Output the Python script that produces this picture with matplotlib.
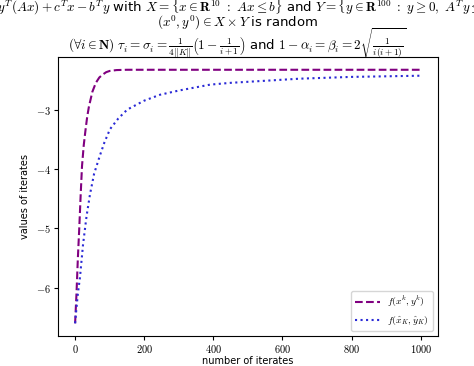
import numpy as np
import matplotlib
matplotlib.use("Agg")
import matplotlib.pyplot as plt

# values
iters_xk = [0, 4, 8, 12, 16, 20, 25, 30, 35, 40, 50, 60, 70, 80, 90, 100, 120, 150, 300, 600, 1000]
vals_xk = [-6.6, -6.1, -5.5, -5.0, -4.45, -3.95, -3.6, -3.35, -3.12, -2.95, -2.7, -2.55, -2.46, -2.41, -2.37, -2.35, -2.335, -2.33, -2.33, -2.33, -2.33]

iters_avg = [0, 3, 8, 14, 23, 33, 43, 55, 72, 85, 101, 125, 151, 200, 246, 300, 391, 450, 536, 650, 800, 1000]
vals_avg = [-6.6, -6.4, -6.1, -5.83, -5.27, -4.8, -4.43, -4.08, -3.77, -3.55, -3.33, -3.15, -3.0, -2.85, -2.75, -2.68, -2.58, -2.55, -2.52, -2.48, -2.45, -2.43]

xticks = [0, 200, 400, 600, 800, 1000]
yticks = [-6, -5, -4, -3]

plt.rcParams['mathtext.fontset'] = 'cm'
plt.rcParams['font.family'] = ['DejaVu Sans']

fig = plt.figure(figsize=(4.74, 3.66), dpi=100)
ax = fig.add_axes([0.122, 0.082, 0.802, 0.762])

ax.plot(iters_xk, vals_xk, linestyle='--', color='purple', linewidth=1.5,
        label=r'$f(x^k, y^k)$')
ax.plot(iters_avg, vals_avg, linestyle=':', color='#2a2ad6', linewidth=1.5,
        label=r'$f(\hat{x}_K, \hat{y}_K)$')

ax.set_xticks(xticks)
ax.set_xticklabels([f'${t}$' for t in xticks], fontsize=7.5)
ax.set_yticks(yticks)
ax.set_yticklabels([f'${t}$' for t in yticks], fontsize=7.5)
ax.tick_params(axis='both', length=3, pad=2)
ax.set_xlabel('number of iterates', fontsize=7, labelpad=1)
ax.set_ylabel('values of iterates', fontsize=7, labelpad=4)
ax.legend(loc='lower right', fontsize=7, handlelength=2.5)

# title lines, the first one is wider than the figure (cut at both sides like the original)
line1 = (r"$\mathcal{L}(x,y) = -y^T(Ax) + c^Tx - b^Ty$ with $X = \{x \in \mathbf{R}^{10}\ :\ Ax \leq b\}$"
         r" and $Y = \{y \in \mathbf{R}^{100}\ :\ y \geq 0,\ A^Ty \leq c\}$")
line2 = r"$(x^0, y^0) \in X \times Y$ is random"
line3 = (r"$(\forall i \in \mathbf{N})\ \tau_i = \sigma_i = \frac{1}{4\|K\|}\left(1 - \frac{1}{i+1}\right)$"
         r" and $1 - \alpha_i = \beta_i = 2\sqrt{\frac{1}{i(i+1)}}$")
fig.text(0.455, 0.98, line1, ha='center', va='center', fontsize=9.5)
fig.text(0.5, 0.936, line2, ha='center', va='center', fontsize=9.5)
fig.text(0.5, 0.882, line3, ha='center', va='center', fontsize=9.5)

fig.savefig('out.png', dpi=100)
